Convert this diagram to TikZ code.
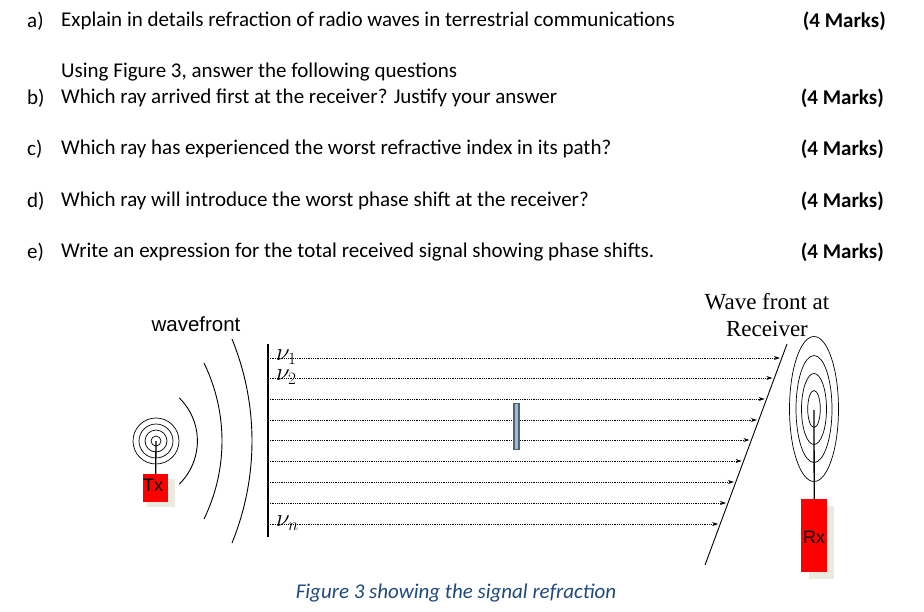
\documentclass[tikz,border=0pt]{standalone}
\usepackage{fontspec}
\setmainfont{Carlito}
\newfontfamily\serifA{Liberation Serif}
\newfontfamily\sansA{Liberation Sans}
\usetikzlibrary{arrows.meta}
\definecolor{capblue}{RGB}{31,73,125}
\definecolor{shad}{RGB}{236,233,222}
\begin{document}
\begin{tikzpicture}[x=1pt,y=-1pt,
  qtext/.style={anchor=west,font=\fontsize{21}{24}\selectfont,inner sep=0},
  markst/.style={anchor=east,font=\fontsize{21}{24}\selectfont\bfseries,inner sep=0},
  lab/.style={anchor=west,font=\fontsize{21}{24}\selectfont,inner sep=0},
  nulab/.style={font=\fontsize{27}{27}\selectfont,inner sep=0,anchor=west},
  ray/.style={densely dotted,line width=0.8pt,-{Stealth[length=6pt,width=4pt]}},
  wv/.style={line width=0.9pt}]
\useasboundingbox (0,0) rectangle (924,611);
% questions
\node[lab] (la) at (27,21) {a)};
\node[qtext] (qa) at (61,21) {Explain in details refraction of radio waves in terrestrial communications};
\node[markst] (ma) at (886,21) {(4 Marks)};
\node[qtext] (qu) at (61,72) {Using Figure 3, answer the following questions};
\node[lab] (lb) at (27,98) {b)};
\node[qtext] (qb) at (61,98) {Which ray arrived first at the receiver? Justify your answer};
\node[markst] (mb) at (884,98) {(4 Marks)};
\node[lab] (lc) at (27,149) {c)};
\node[qtext] (qc) at (61,149) {Which ray has experienced the worst refractive index in its path?};
\node[markst] (mc) at (884,149) {(4 Marks)};
\node[lab] (ld) at (27,201) {d)};
\node[qtext] (qd) at (61,201) {Which ray will introduce the worst phase shift at the receiver?};
\node[markst] (md) at (884,201) {(4 Marks)};
\node[lab] (le) at (27,252) {e)};
\node[qtext] (qe) at (61,252) {Write an expression for the total received signal showing phase shifts.};
\node[markst] (me) at (884,252) {(4 Marks)};
% labels
\node[font=\sansA\fontsize{20.5}{22}\selectfont] (wf) at (196,324) {wavefront};
\node[font=\serifA\fontsize{23}{27}\selectfont,align=center] (wfr) at (767,315) {Wave front at\\Receiver};
\node[font=\fontsize{21}{24}\selectfont\itshape,text=capblue] (cap) at (456,593) {Figure 3 showing the signal refraction};
% Tx
\fill[shad] (147,479) rectangle (175,507);
\node[fill=red,minimum width=25pt,minimum height=28pt,inner sep=0,anchor=north west] (tx) at (143,474) {};
\node[font=\sansA\fontsize{18}{18}\selectfont,anchor=north west,inner sep=0] (txl) at (143,479) {Tx};
\coordinate (ta) at (156,441);
\draw[line width=1.3pt] (ta) -- (tx.north);
\foreach \r in {5,11,17,23} \draw[line width=0.7pt] (ta) circle (\r);
\draw[wv] (137,441) ++(-45.6:60.4) arc (-45.6:45.6:60.4);
\draw[wv] (44,441) ++(-26:178) arc (-26:26:178);
\draw[wv] (-18,441) ++(-22.2:270) arc (-22.2:22.2:270);
% vertical wavefront line
\coordinate (vt) at (268,344);
\coordinate (vb) at (268,537);
\draw[line width=1.1pt] (vt) -- (vb);
% receiver wavefront
\coordinate (rt) at (787,344);
\coordinate (rb) at (705,565);
\draw[line width=0.9pt] (rt) -- (rb);
% rays
\foreach \i/\y in {0/358,1/378,2/399,3/420,4/440,5/461,6/482,7/503,8/524} {
  \pgfmathsetmacro{\xe}{787-82*(\y-344)/221-2}
  \coordinate (s\i) at (268,\y);
  \coordinate (e\i) at (\xe,\y);
  \draw[ray] (s\i) -- (e\i);
}
\node[nulab] (n1) at (276,357) {$\nu_1$};
\node[nulab] (n2) at (276,377) {$\nu_2$};
\node[nulab] (nn) at (276,523) {$\nu_n$};
% small block
\node[draw={rgb,255:red,80;green,100;blue,115},line width=1.3pt,fill={rgb,255:red,150;green,190;blue,215},minimum width=5pt,minimum height=46pt,inner sep=0] (blk) at (516.5,426.5) {};
% Rx
\fill[shad] (809,506) rectangle (834,579);
\node[fill=red,minimum width=26pt,minimum height=73pt,inner sep=0,anchor=north west] (rx) at (801,499) {};
\node[font=\sansA\fontsize{18}{18}\selectfont] (rxl) at (814,537) {Rx};
\coordinate (ra) at (814,410);
\draw[line width=1.3pt] (ra) -- (rx.north);
\foreach \a/\b in {6.3/18.5,12.5/35.5,18/53.5,24.5/72.5} \draw[line width=0.7pt] (814,409) ellipse [x radius=\a,y radius=\b];
\end{tikzpicture}
\end{document}
